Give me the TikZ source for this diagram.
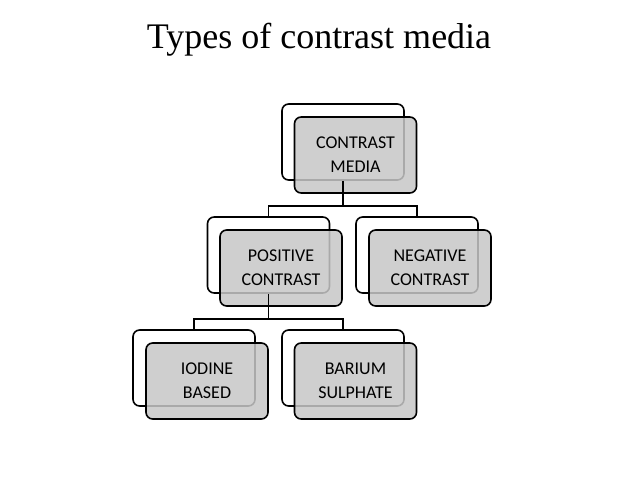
\documentclass[tikz,border=0pt]{standalone}
\usepackage{fontspec}
\setmainfont{Liberation Serif}
\newfontfamily\boxfont{Carlito}
\begin{document}
\begin{tikzpicture}[x=0.75pt,y=-0.75pt,
  back/.style={draw=black,line width=1.2pt,fill=white,rounded corners=5pt,minimum width=91.5pt,minimum height=57pt,inner sep=0pt},
  front/.style={draw=black,line width=1.2pt,fill=black!22,fill opacity=0.85,text opacity=1,rounded corners=5pt,minimum width=91.5pt,minimum height=57pt,inner sep=0pt,align=center,font=\boxfont\fontsize{13.5pt}{18pt}\selectfont},
  conn/.style={line width=1.2pt}]
\useasboundingbox (0,0) rectangle (638,478);
\node at (319,40) {\fontsize{27pt}{30pt}\selectfont Types of contrast media};
% top
\node[back] (b1) at (343,142) {};
\node[front] (f1) at (355.5,155) {CONTRAST\\MEDIA};
% level 2
\node[back] (b2) at (268.5,255) {};
\node[front] (f2) at (281,268) {POSITIVE\\CONTRAST};
\node[back] (b3) at (417,255) {};
\node[front] (f3) at (430,268) {NEGATIVE\\CONTRAST};
% level 3
\node[back] (b4) at (194,368) {};
\node[front] (f4) at (207,381) {IODINE\\BASED};
\node[back] (b5) at (343,368) {};
\node[front] (f5) at (355.5,381) {BARIUM\\SULPHATE};
% connectors
\draw[conn] (b1.south) -- ++(0,25) -| (b2.north);
\draw[conn] (b1.south) ++(0,25) -| (b3.north);
\draw[conn] (b2.south) -- ++(0,25) -| (b4.north);
\draw[conn] (b2.south) ++(0,25) -| (b5.north);
\end{tikzpicture}
\end{document}
